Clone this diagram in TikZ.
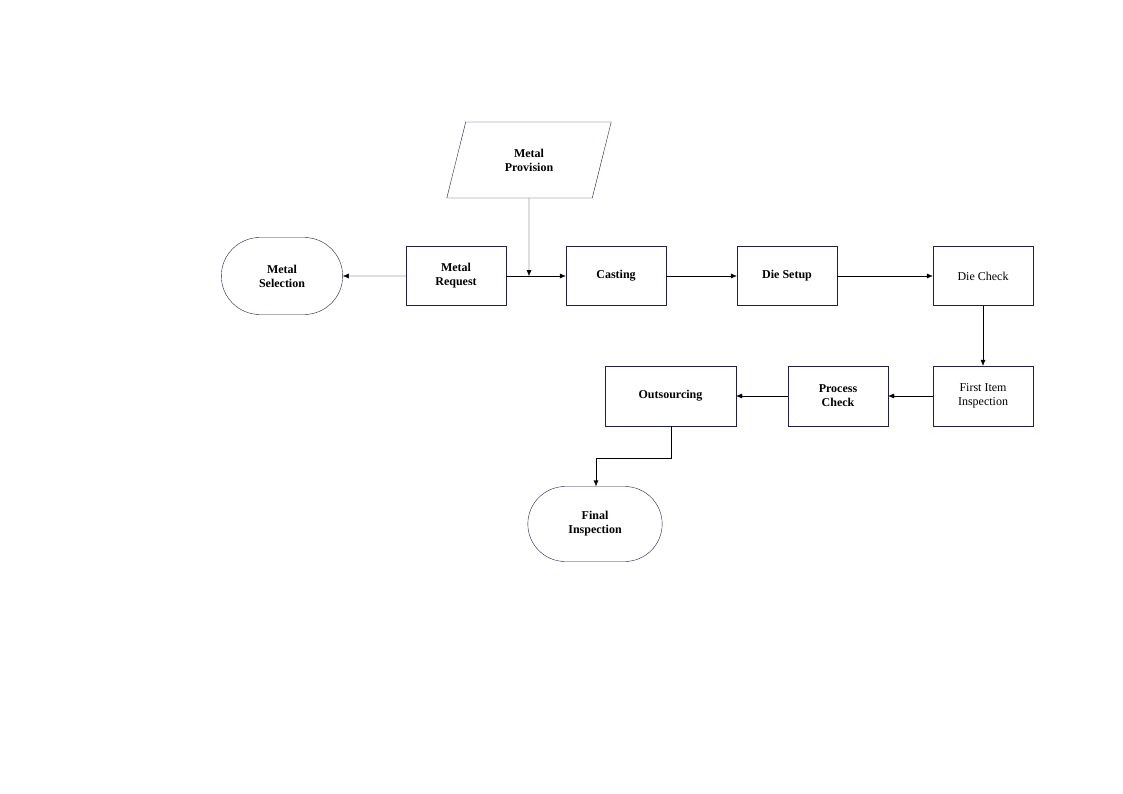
\documentclass[tikz,border=0pt]{standalone}
\usepackage{fontspec}
\setmainfont{Liberation Serif}
\usetikzlibrary{shapes.geometric,shapes.misc,arrows.meta}
\definecolor{bd}{HTML}{1F1F4F}
\begin{document}
\begin{tikzpicture}[x=1pt,y=-1pt,
  box/.style={draw=bd,fill=white,minimum width=100pt,minimum height=59pt,align=center,font=\fontsize{12}{14}\selectfont\bfseries},
  plain/.style={box,font=\fontsize{12}{14}\selectfont},
  term/.style={draw=bd,fill=white,rounded rectangle,align=center,font=\fontsize{12}{14}\selectfont\bfseries},
  para/.style={draw=bd,fill=white,trapezium,trapezium left angle=76,trapezium right angle=104,minimum width=108pt,minimum height=76pt,inner xsep=0pt,align=center,font=\fontsize{12}{14}\selectfont\bfseries},
  arr/.style={-{Latex[length=6pt,width=5pt]},black}]
\useasboundingbox (0,0) rectangle (1123,794);
\node[term,minimum width=128pt,minimum height=77pt] (sel) at (282,276) {Metal\\Selection};
\node[box] (req) at (456,276) {Metal\\Request};
\node[para] (prov) at (529,160) {Metal\\Provision};
\node[box] (cast) at (616,276) {Casting};
\node[box] (die) at (787,276) {Die Setup};
\node[plain] (chk) at (983,276) {Die Check};
\node[plain,minimum height=60pt] (first) at (983,396) {First Item\\Inspection};
\node[box,minimum height=60pt] (proc) at (838,396) {Process\\Check};
\node[box,minimum width=131pt,minimum height=60pt] (out) at (670.5,396) {Outsourcing};
\node[term,minimum width=141pt,minimum height=75pt] (fin) at (595,524) {Final\\Inspection};
\coordinate (j) at (529,276);
\coordinate (b1) at (671,458);
\coordinate (b2) at (596,458);
\draw[arr] (req) -- (sel);
\draw[arr] (req) -- (cast);
\draw[arr] (prov.south) -- (j);
\draw[arr] (cast) -- (die);
\draw[arr] (die) -- (chk);
\draw[arr] (chk) -- (first);
\draw[arr] (first) -- (proc);
\draw[arr] (proc) -- (out);
\draw[arr] (out.south -| b1) -- (b1) -- (b2) -- (b2 |- fin.north);
\end{tikzpicture}
\end{document}
